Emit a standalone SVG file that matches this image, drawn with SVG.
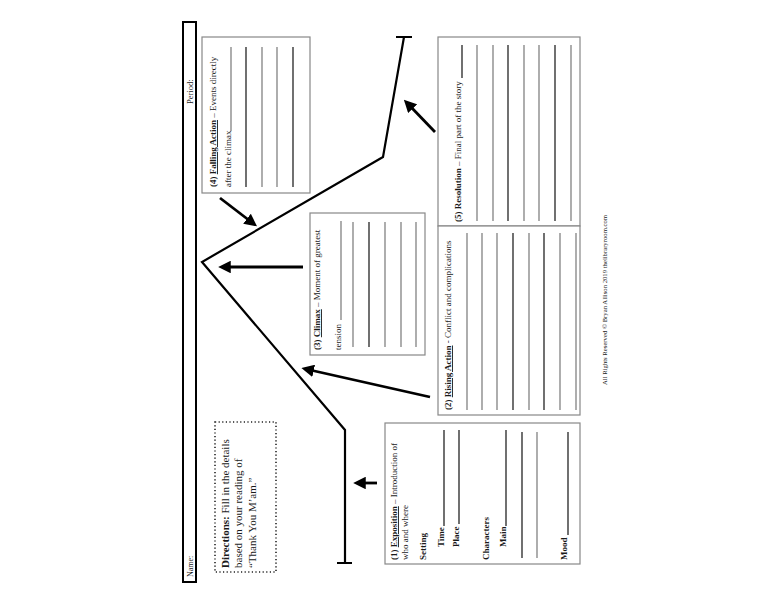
<svg xmlns="http://www.w3.org/2000/svg" width="768" height="594" viewBox="0 0 768 594">
<defs>
<style>
.t{font-family:"Liberation Serif","Times New Roman",serif;font-size:9px;fill:#1a1a1a}
.b{font-weight:bold}
.u{text-decoration:underline}
.box{fill:#fff;stroke:#888;stroke-width:1.2}
.w{stroke:#777;stroke-width:1.2}
.k{stroke:#111;stroke-width:1.2}
.plot{fill:none;stroke:#000;stroke-width:2.2;stroke-linejoin:miter}
.arr{stroke:#000;stroke-width:2.8;marker-end:url(#ah)}
</style>
<marker id="ah" viewBox="0 0 10 10" refX="3" refY="5" markerWidth="4.5" markerHeight="4.5" orient="auto" markerUnits="strokeWidth">
<path d="M0,0 L10,5 L0,10 z" fill="#000"/>
</marker>
</defs>
<rect width="768" height="594" fill="#fff"/>

<g id="header">
<rect x="183" y="22" width="13" height="560" fill="none" stroke="#000" stroke-width="2"/>
<text class="t" style="font-size:8.5px" transform="translate(193,104) rotate(-90)">Period:</text>
<text class="t" style="font-size:8px" transform="translate(193,577) rotate(-90)">Name:</text>
</g>

<g id="directions">
<rect x="215" y="422" width="61" height="150" fill="none" stroke="#222" stroke-width="1.6" stroke-dasharray="1.2,2.4"/>
<text class="t" style="font-size:11px" transform="translate(229,568) rotate(-90)"><tspan class="b">Directions:</tspan> Fill in the details</text>
<text class="t" style="font-size:11px" transform="translate(242,568) rotate(-90)">based on your reading of</text>
<text class="t" style="font-size:11px" transform="translate(256,568) rotate(-90)">“Thank You M’am.”</text>
</g>

<g id="plot-line">
<path class="plot" d="M337,563 H352 M345,563 V430 L202,262 L383,157 L404,37 M396,37 H412"/>
</g>

<g id="falling-action">
<rect class="box" x="202" y="37" width="108" height="156"/>
<text class="t" transform="translate(216,187) rotate(-90)"><tspan class="b">(4) </tspan><tspan class="b u">Falling Action</tspan> – Events directly</text>
<text class="t" transform="translate(231,187) rotate(-90)">after the climax</text>
<line class="w" x1="231" y1="131" x2="231" y2="47"/>
<line class="k" x1="246" y1="47" x2="246" y2="187"/>
<line class="w" x1="262" y1="47" x2="262" y2="187"/>
<line class="w" x1="277" y1="47" x2="277" y2="187"/>
<line class="k" x1="293" y1="47" x2="293" y2="187"/>
</g>

<g id="climax">
<rect class="box" x="310" y="213" width="115" height="142"/>
<text class="t" transform="translate(320,350) rotate(-90)"><tspan class="b">(3) </tspan><tspan class="b u">Climax</tspan> – Moment of greatest</text>
<text class="t" transform="translate(341,350) rotate(-90)">tension</text>
<line class="w" x1="341" y1="320" x2="341" y2="221"/>
<line class="w" x1="353" y1="222" x2="353" y2="347"/>
<line class="k" x1="369" y1="222" x2="369" y2="347"/>
<line class="w" x1="385" y1="222" x2="385" y2="347"/>
<line class="w" x1="401" y1="222" x2="401" y2="347"/>
<line class="w" x1="416" y1="222" x2="416" y2="347"/>
</g>

<g id="resolution">
<rect class="box" x="438" y="37" width="142" height="189"/>
<text class="t" transform="translate(461,222) rotate(-90)"><tspan class="b">(5) Resolution</tspan> – Final part of the story</text>
<line class="k" x1="462" y1="78" x2="462" y2="45"/>
<line class="w" x1="477" y1="45" x2="477" y2="221"/>
<line class="w" x1="493" y1="45" x2="493" y2="221"/>
<line class="k" x1="508" y1="45" x2="508" y2="221"/>
<line class="w" x1="524" y1="45" x2="524" y2="221"/>
<line class="w" x1="539" y1="45" x2="539" y2="221"/>
<line class="k" x1="555" y1="45" x2="555" y2="221"/>
<line class="w" x1="571" y1="45" x2="571" y2="221"/>
</g>

<g id="rising-action">
<rect class="box" x="438" y="226" width="142" height="189"/>
<text class="t" transform="translate(451,410) rotate(-90)"><tspan class="b">(2) </tspan><tspan class="b u">Rising Action</tspan> - Conflict and complications</text>
<line class="w" x1="467" y1="233" x2="467" y2="410"/>
<line class="w" x1="482" y1="233" x2="482" y2="410"/>
<line class="w" x1="497" y1="233" x2="497" y2="410"/>
<line class="k" x1="513" y1="233" x2="513" y2="410"/>
<line class="w" x1="529" y1="233" x2="529" y2="410"/>
<line class="k" x1="544" y1="233" x2="544" y2="410"/>
<line class="w" x1="560" y1="233" x2="560" y2="410"/>
<line class="w" x1="576" y1="233" x2="576" y2="410"/>
</g>

<g id="exposition">
<rect class="box" x="385" y="423" width="195" height="141"/>
<text class="t" transform="translate(397,560) rotate(-90)"><tspan class="b">(1) </tspan><tspan class="b u">Exposition</tspan> – Introduction of</text>
<text class="t" transform="translate(408,560) rotate(-90)">who and where</text>
<text class="t b" transform="translate(426,560) rotate(-90)">Setting</text>
<text class="t b" transform="translate(444,547) rotate(-90)">Time</text>
<line class="k" x1="444" y1="526" x2="444" y2="430"/>
<text class="t b" transform="translate(459,547) rotate(-90)">Place</text>
<line class="k" x1="459" y1="524" x2="459" y2="430"/>
<text class="t b" transform="translate(489,560) rotate(-90)">Characters</text>
<text class="t b" transform="translate(506,547) rotate(-90)">Main</text>
<line class="k" x1="506" y1="526" x2="506" y2="430"/>
<line class="k" x1="522" y1="432" x2="522" y2="558"/>
<line class="w" x1="537" y1="432" x2="537" y2="558"/>
<text class="t b" transform="translate(567,560) rotate(-90)">Mood</text>
<line class="k" x1="568" y1="535" x2="568" y2="432"/>
</g>

<g id="connectors">
<line class="arr" x1="377" y1="483" x2="362" y2="483"/>
<line class="arr" x1="430" y1="397" x2="310" y2="370"/>
<line class="arr" x1="303" y1="267" x2="227" y2="267"/>
<line class="arr" x1="220" y1="198" x2="250" y2="221"/>
<line class="arr" x1="435" y1="132" x2="410" y2="106"/>
</g>

<g id="footer">
<text class="t" style="font-size:6.7px" transform="translate(607,385) rotate(-90)">All Rights Reserved © Bryan Allison 2019 thelibraryroom.com</text>
</g>
</svg>
